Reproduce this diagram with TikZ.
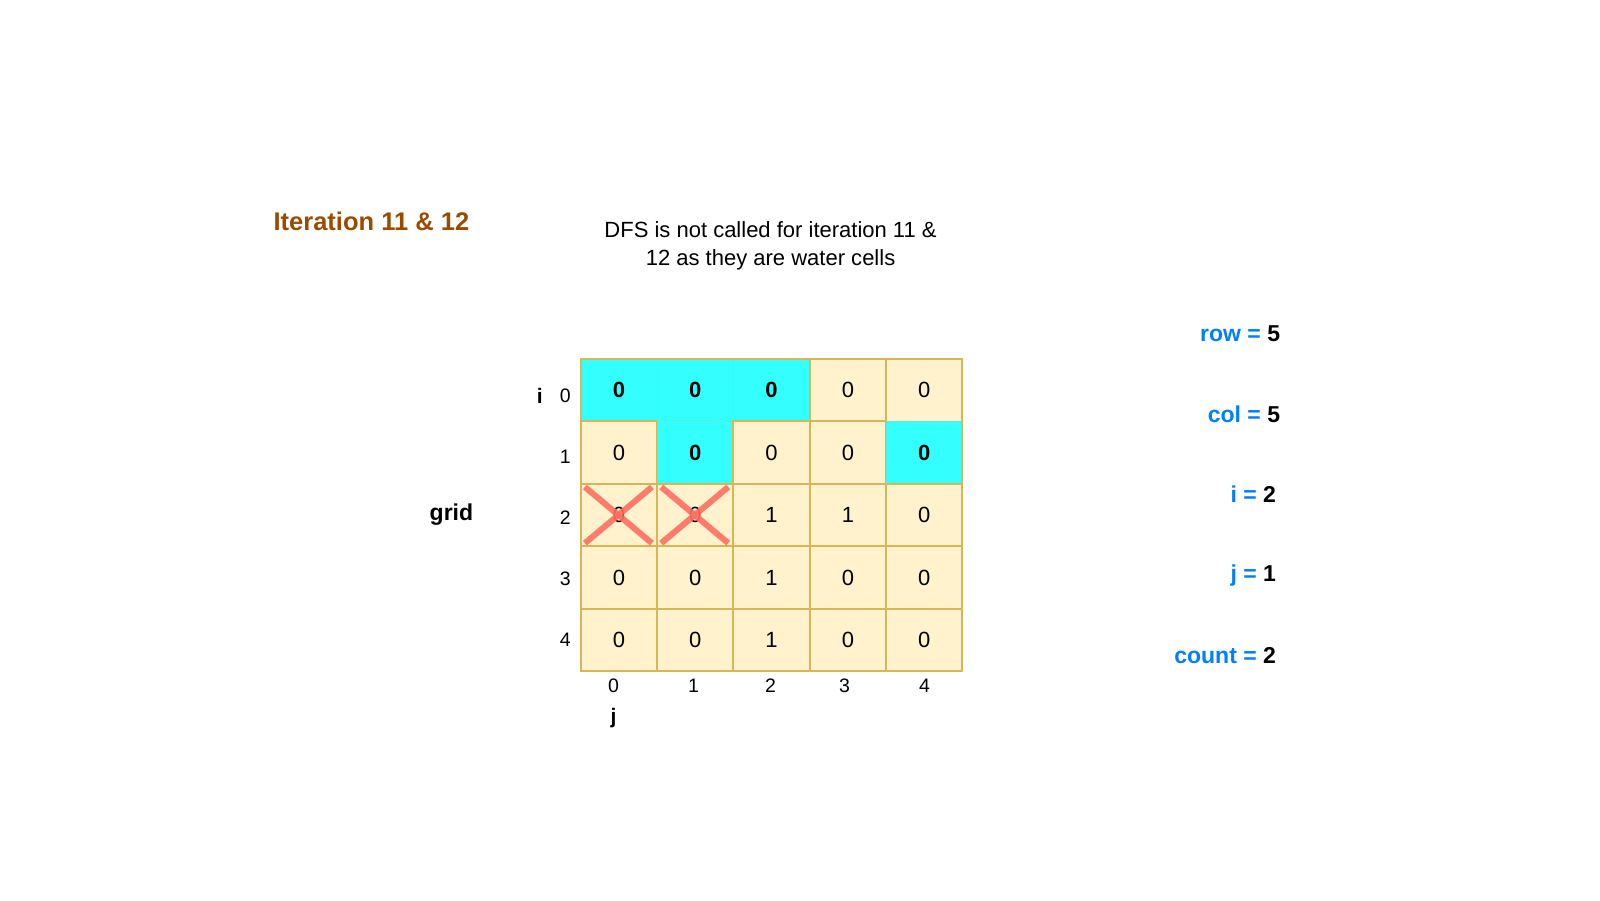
\documentclass[tikz,border=0pt]{standalone}
\usepackage{fontspec}
\setmainfont{Liberation Sans}
\definecolor{cellf}{HTML}{FFF2CC}
\definecolor{cellb}{HTML}{D6B656}
\definecolor{cyanf}{HTML}{33FFFF}
\definecolor{titlec}{HTML}{994C00}
\definecolor{bluec}{HTML}{007FFF}
\definecolor{xred}{HTML}{FF6F61}
\begin{document}
\begin{tikzpicture}[x=1.026pt,y=-1.026pt,
  cell/.style={draw=cellb,line width=2pt,fill=cellf,minimum width=76.3pt,minimum height=62.4pt,inner sep=0pt,font=\fontsize{22}{25}\selectfont},
  wcell/.style={cell,fill=cyanf,draw=cyanf!80!cellb,line width=0.5pt,font=\fontsize{22}{25}\selectfont\bfseries},
  lbl/.style={font=\fontsize{19.5}{22}\selectfont},
  var/.style={font=\fontsize{23}{27}\selectfont\bfseries,anchor=east}]
\useasboundingbox (0,0) rectangle (1559.4,877.2);
\def\W{74.4}\def\H{60.8}
% grid
\foreach \r/\c/\v/\t in {0/0/0/w,0/1/0/w,0/2/0/w,0/3/0/c,0/4/0/c,
 1/0/0/c,1/1/0/w,1/2/0/c,1/3/0/c,1/4/0/w,
 2/0/0/c,2/1/0/c,2/2/1/c,2/3/1/c,2/4/0/c,
 3/0/0/c,3/1/0/c,3/2/1/c,3/3/0/c,3/4/0/c,
 4/0/0/c,4/1/0/c,4/2/1/c,4/3/0/c,4/4/0/c}{
  \if\t w\def\st{wcell}\else\def\st{cell}\fi
  \node[\st] (g\r\c) at ({566+\W*(\c+0.5)},{350+\H*(\r+0.5)}) {\v};
}
\draw[cellb,line width=2pt] (566,350) rectangle (938,654);
% crosses
\foreach \c in {0,1}{
  \draw[xred,line width=6pt,opacity=0.9] ([shift={(5,4)}]g2\c.north west) -- ([shift={(-6,-4)}]g2\c.south east);
  \draw[xred,line width=6pt,opacity=0.9] ([shift={(-6,4)}]g2\c.north east) -- ([shift={(5,-4)}]g2\c.south west);
}
% row labels
\foreach \r in {0,...,4}{\node[lbl] (ri\r) at (551,{386+\H*\r-1.5*\r}) {\r};}
\foreach \c/\x in {0/598,1/676,2/751,3/823,4/901}{\node[lbl] (cj\c) at (\x,668) {\c};}
\node[font=\fontsize{21}{24}\selectfont\bfseries] (ilab) at (526,386) {i};
\node[font=\fontsize{21}{24}\selectfont\bfseries] (jlab) at (598,700) {j};
\node[font=\fontsize{23}{26}\selectfont\bfseries] (grid) at (440,502) {grid};
\node[font=\fontsize{25.5}{29}\selectfont\bfseries,text=titlec] (title) at (362,216) {Iteration 11 \& 12};
\node[font=\fontsize{22}{28}\selectfont,align=center] (desc) at (751,240) {DFS is not called for iteration 11 \&\\12 as they are water cells};
\node[var] (row) at (1251,325) {\textcolor{bluec}{row =} 5};
\node[var] (col) at (1251,404) {\textcolor{bluec}{col =} 5};
\node[var] (iv) at (1247,482) {\textcolor{bluec}{i =} 2};
\node[var] (jv) at (1247,561) {\textcolor{bluec}{j =} 1};
\node[var] (cnt) at (1247,639) {\textcolor{bluec}{count =} 2};
\end{tikzpicture}
\end{document}
